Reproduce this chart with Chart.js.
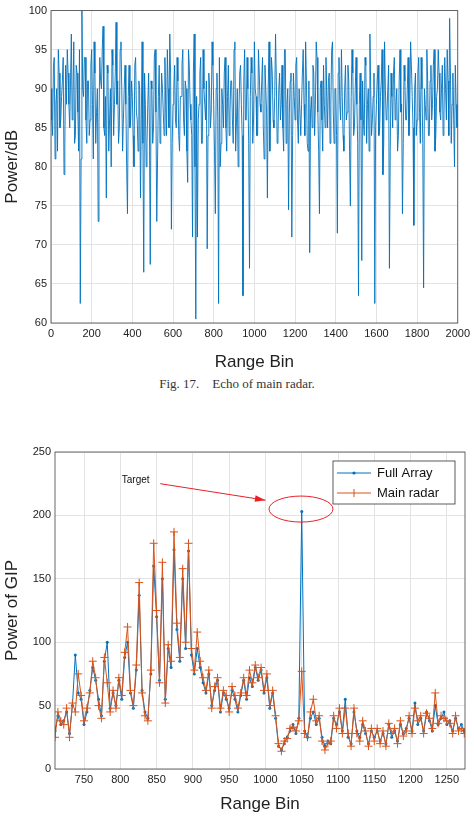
<!DOCTYPE html>
<html>
<head>
<meta charset="UTF-8">
<script src="https://cdn.jsdelivr.net/npm/chart.js"></script>
<style>
  body { margin: 0; background: #fff; width: 474px; height: 817px; position: relative; overflow: hidden; }
  .box { position: absolute; left: 0; width: 474px; }
  #caption { position: absolute; top: 376px; width: 474px; text-align: center;
    font-family: "Liberation Serif", serif; font-size: 13px; color: #333; }
</style>
</head>
<body>
<div class="box" style="top:0;height:375px"><canvas id="echo"></canvas></div>
<div id="caption">Fig. 17.&nbsp;&nbsp;&nbsp; Echo of main radar.</div>
<div class="box" style="top:420px;height:397px"><canvas id="gip"></canvas></div>
<script>
// top chart: echo power, read at bins 0, 8, 16 ... (A) and 4, 12, 20 ... (B)
const echoStart = 0, echoStep = 8;
const echoPowerA = [
  90,84,94,88,82,92,86,91,79,93, 95,88,91,86,96,84,92,82,62.5,100,
  89,94,83,91,86,95,81,92,87,73, 94,90,98,84,76,92,86,80,93,88,
  98.5,91,85,96,82,90,88,74,93,86, 89,80,94,86,91,76,96,66.5,88,83,
  92,67.5,90,85,95,73,89,83,92,87, 94,84,90,97,72,88,93,85,91,82,
  89,95,84,90,78,93,86,71,97,60.5, 71,88,94,83,90,86,69.5,92,85,96,
  88,74,92,62.5,80,90,85,94,82,93, 87,91,83,96,86,80,92,88,63.5,95,
  86,90,67,94,83,96,89,84,92,87, 94,81,90,76,96,88,92,85,97,83,
  90,86,93,82,95,88,74.5,91,71,92, 86,94,83,90,88,95,84,91,82,69,
  89,93,84,96,87,74,91,82,88,94, 85,92,88,96,83,90,71.5,94,86,89,
  82,93,87,91,75,95,84,90,88,63.5, 92,68,86,94,83,90,97,84,89,62.5,
  88,93,85,91,79,96,86,90,67,92, 85,94,88,82,91,87,74,93,86,90,
  84,96,89,72.5,92,86,94,83,90,64.5, 88,95,84,91,86,93,82,89,95,87,
  90,84,94,86,91,99,83,92,80,88
];
const echoPowerB = [
  86,93,81,90,95,85,89,94,83,88, 92,85,97,89,83,93,87,95,81,90,
  94,86,91,84,93,88,96,83,90,86, 91,95,85,89,93,82,90,95,84,92,
  88,83,95,90,86,93,80,89,85,91, 84,93,87,82,90,86,83,92,80,88,
  85,91,83,94,87,81,93,86,90,84, 88,95,85,92,83,90,86,94,84,89,
  93,86,91,82,95,88,84,92,80,89, 86,92,83,95,88,91,84,90,87,93,
  82,90,86,94,83,88,92,85,89,84, 91,86,95,82,90,87,93,84,91,86,
  94,83,89,92,86,90,84,95,88,91, 85,93,87,90,82,94,86,89,91,84,
  92,88,85,95,83,90,87,92,84,89, 93,86,90,84,92,88,96,83,91,87,
  85,92,88,94,82,90,86,93,85,89, 91,83,95,87,90,84,92,88,95,84,
  90,86,93,82,89,92,85,94,83,88, 86,91,84,93,88,82,90,86,92,85,
  91,84,89,95,83,90,87,93,82,89, 92,86,90,84,95,88,83,91,86,94,
  88,93,85,90,84,92,87,94,83,90, 86,91,84,93,88,95,84,90,92,86,
  93,86,90,95,84,92,88,86,93,85
];
const echoTicksX = [0,200,400,600,800,1000,1200,1400,1600,1800,2000];

// bottom chart: GIP power, one value every 4 range bins from 710
const gipStart = 710, gipStep = 4;
const fullArray = [
  30,42,35,38,45,28,50,90,60,55, 35,45,62,80,70,55,42,85,100,48,
  60,50,70,55,88,100,60,48,78,137, 62,45,40,75,160,120,70,150,55,95,
  80,173,110,85,150,95,172,90,75,95, 80,68,60,75,50,62,70,45,60,55,
  48,62,55,45,58,70,55,72,65,80, 70,78,60,72,48,60,40,18,15,20,
  25,30,35,28,40,203,30,25,40,45, 35,40,25,18,22,20,40,35,45,30,
  55,25,20,45,30,25,35,28,20,30, 25,30,22,28,20,35,25,30,22,35,
  28,32,40,30,52,35,40,30,45,38, 30,50,35,40,45,35,38,30,40,32,
  35,30
];
const mainRadar = [
  25,45,38,35,48,25,52,45,75,58, 38,48,60,85,72,50,40,88,68,45,
  62,48,72,58,92,112,62,50,82,147, 60,42,38,78,178,125,68,163,52,98,
  85,187,115,88,158,100,178,95,78,108, 85,72,62,78,48,65,72,48,62,58,
  45,65,58,48,60,72,58,78,68,82, 72,80,62,75,50,62,42,20,14,22,
  24,32,33,30,38,77,28,25,45,55, 38,42,22,15,20,22,42,32,48,28,
  48,28,18,48,28,22,38,30,18,32, 22,32,20,30,18,36,28,32,20,38,
  26,30,42,28,48,38,42,28,44,40, 32,60,36,42,40,38,36,28,42,30,
  32,28
];
const seriesNames = ['Full Array', 'Main radar'];
const blue = '#0072BD', orange = '#D95319';

const pts = (start, step, arr) => arr.map((v, i) => ({ x: start + i * step, y: v }));
// merge the two echo readings in bin order
const echoPts = [];
echoPowerA.forEach((v, i) => {
  echoPts.push({ x: echoStart + i * echoStep, y: v });
  echoPts.push({ x: echoStart + i * echoStep + 4, y: echoPowerB[i] });
});

const font = { family: '"Liberation Sans", Arial, sans-serif', size: 11 };
const titleFont = { family: '"Liberation Sans", Arial, sans-serif', size: 17 };
const gridCol = '#e3e3e3';

const frame = {
  id: 'frame',
  afterDraw(chart) {
    const { ctx, chartArea: a } = chart;
    ctx.save();
    ctx.strokeStyle = '#444';
    ctx.lineWidth = 0.8;
    ctx.strokeRect(a.left, a.top, a.right - a.left, a.bottom - a.top);
    ctx.restore();
  }
};

function axis(min, max, step, title, ticks) {
  const ax = {
    type: 'linear', min, max,
    grid: { color: gridCol, drawTicks: false },
    border: { display: false },
    ticks: { stepSize: step, font, color: '#222', padding: 4, callback: v => String(v) },
    title: { display: true, text: title, font: titleFont, color: '#222', padding: 2 }
  };
  if (ticks) ax.afterBuildTicks = s => { s.ticks = ticks.map(v => ({ value: v })); };
  return ax;
}

const echoX = axis(0, 2000, 200, 'Range Bin', echoTicksX);
echoX.afterFit = s => { s.height = 52; };
const echoY = axis(60, 100, 5, 'Power/dB');
echoY.afterFit = s => { s.width = 51; };

new Chart(document.getElementById('echo'), {
  type: 'line',
  data: { datasets: [{ data: echoPts, borderColor: blue,
    borderWidth: 0.9, pointRadius: 0, tension: 0 }] },
  options: {
    responsive: true, maintainAspectRatio: false, animation: false,
    layout: { padding: { top: 5, right: 14, left: 0, bottom: 0 } },
    plugins: { legend: { display: false }, tooltip: { enabled: false } },
    scales: { x: echoX, y: echoY }
  },
  plugins: [frame]
});

const gipX = axis(710, 1275, 50, 'Range Bin', [750,800,850,900,950,1000,1050,1100,1150,1200,1250]);
gipX.afterFit = s => { s.height = 48; };
const gipY = axis(0, 250, 50, 'Power of GIP');
gipY.afterFit = s => { s.width = 55; };

const notes = {
  id: 'notes',
  afterDraw(chart) {
    const { ctx, scales: { x, y }, chartArea: a } = chart;
    ctx.save();
    // target ellipse
    ctx.strokeStyle = '#e8202a'; ctx.lineWidth = 1;
    ctx.beginPath();
    ctx.ellipse(x.getPixelForValue(1049), y.getPixelForValue(205), 32, 13, 0, 0, Math.PI * 2);
    ctx.stroke();
    // arrow
    const x1 = x.getPixelForValue(855), y1 = y.getPixelForValue(225);
    const x2 = x.getPixelForValue(1000), y2 = y.getPixelForValue(212);
    ctx.beginPath(); ctx.moveTo(x1, y1); ctx.lineTo(x2, y2); ctx.stroke();
    const ang = Math.atan2(y2 - y1, x2 - x1);
    ctx.fillStyle = '#e8202a';
    ctx.beginPath(); ctx.moveTo(x2, y2);
    ctx.lineTo(x2 - 11 * Math.cos(ang - 0.3), y2 - 11 * Math.sin(ang - 0.3));
    ctx.lineTo(x2 - 11 * Math.cos(ang + 0.3), y2 - 11 * Math.sin(ang + 0.3));
    ctx.closePath(); ctx.fill();
    ctx.fillStyle = '#111';
    ctx.font = '10px "Liberation Sans", Arial';
    ctx.textBaseline = 'middle';
    ctx.fillText('Target', x.getPixelForValue(802), y.getPixelForValue(228));
    // legend box
    const lw = 122, lh = 43, lx = a.right - lw - 10, ly = a.top + 9;
    ctx.fillStyle = '#fff'; ctx.fillRect(lx, ly, lw, lh);
    ctx.strokeStyle = '#333'; ctx.lineWidth = 0.8; ctx.strokeRect(lx, ly, lw, lh);
    ctx.font = '13px "Liberation Sans", Arial';
    [[blue, 'dot'], [orange, 'cross']].forEach(([c, m], i) => {
      const yy = ly + 12 + i * 20;
      ctx.strokeStyle = c; ctx.lineWidth = 1;
      ctx.beginPath(); ctx.moveTo(lx + 4, yy); ctx.lineTo(lx + 38, yy); ctx.stroke();
      if (m === 'dot') {
        ctx.fillStyle = c; ctx.beginPath(); ctx.arc(lx + 21, yy, 1.6, 0, 7); ctx.fill();
      } else {
        ctx.beginPath(); ctx.moveTo(lx + 21, yy - 4); ctx.lineTo(lx + 21, yy + 4); ctx.stroke();
      }
      ctx.fillStyle = '#111';
      ctx.fillText(seriesNames[i], lx + 44, yy);
    });
    ctx.restore();
  }
};

new Chart(document.getElementById('gip'), {
  type: 'line',
  data: { datasets: [
    { label: seriesNames[0], data: pts(gipStart, gipStep, fullArray), borderColor: blue,
      backgroundColor: blue, borderWidth: 1, pointRadius: 1.5, pointBorderWidth: 0, tension: 0, order: 2 },
    { label: seriesNames[1], data: pts(gipStart, gipStep, mainRadar), borderColor: orange,
      backgroundColor: orange, borderWidth: 1, pointStyle: 'cross', pointRadius: 4,
      pointBorderWidth: 1, tension: 0, order: 1 }
  ] },
  options: {
    responsive: true, maintainAspectRatio: false, animation: false,
    layout: { padding: { top: 32, right: 9, left: 0, bottom: 0 } },
    plugins: { legend: { display: false }, tooltip: { enabled: false } },
    scales: { x: gipX, y: gipY }
  },
  plugins: [frame, notes]
});
</script>
</body>
</html>
